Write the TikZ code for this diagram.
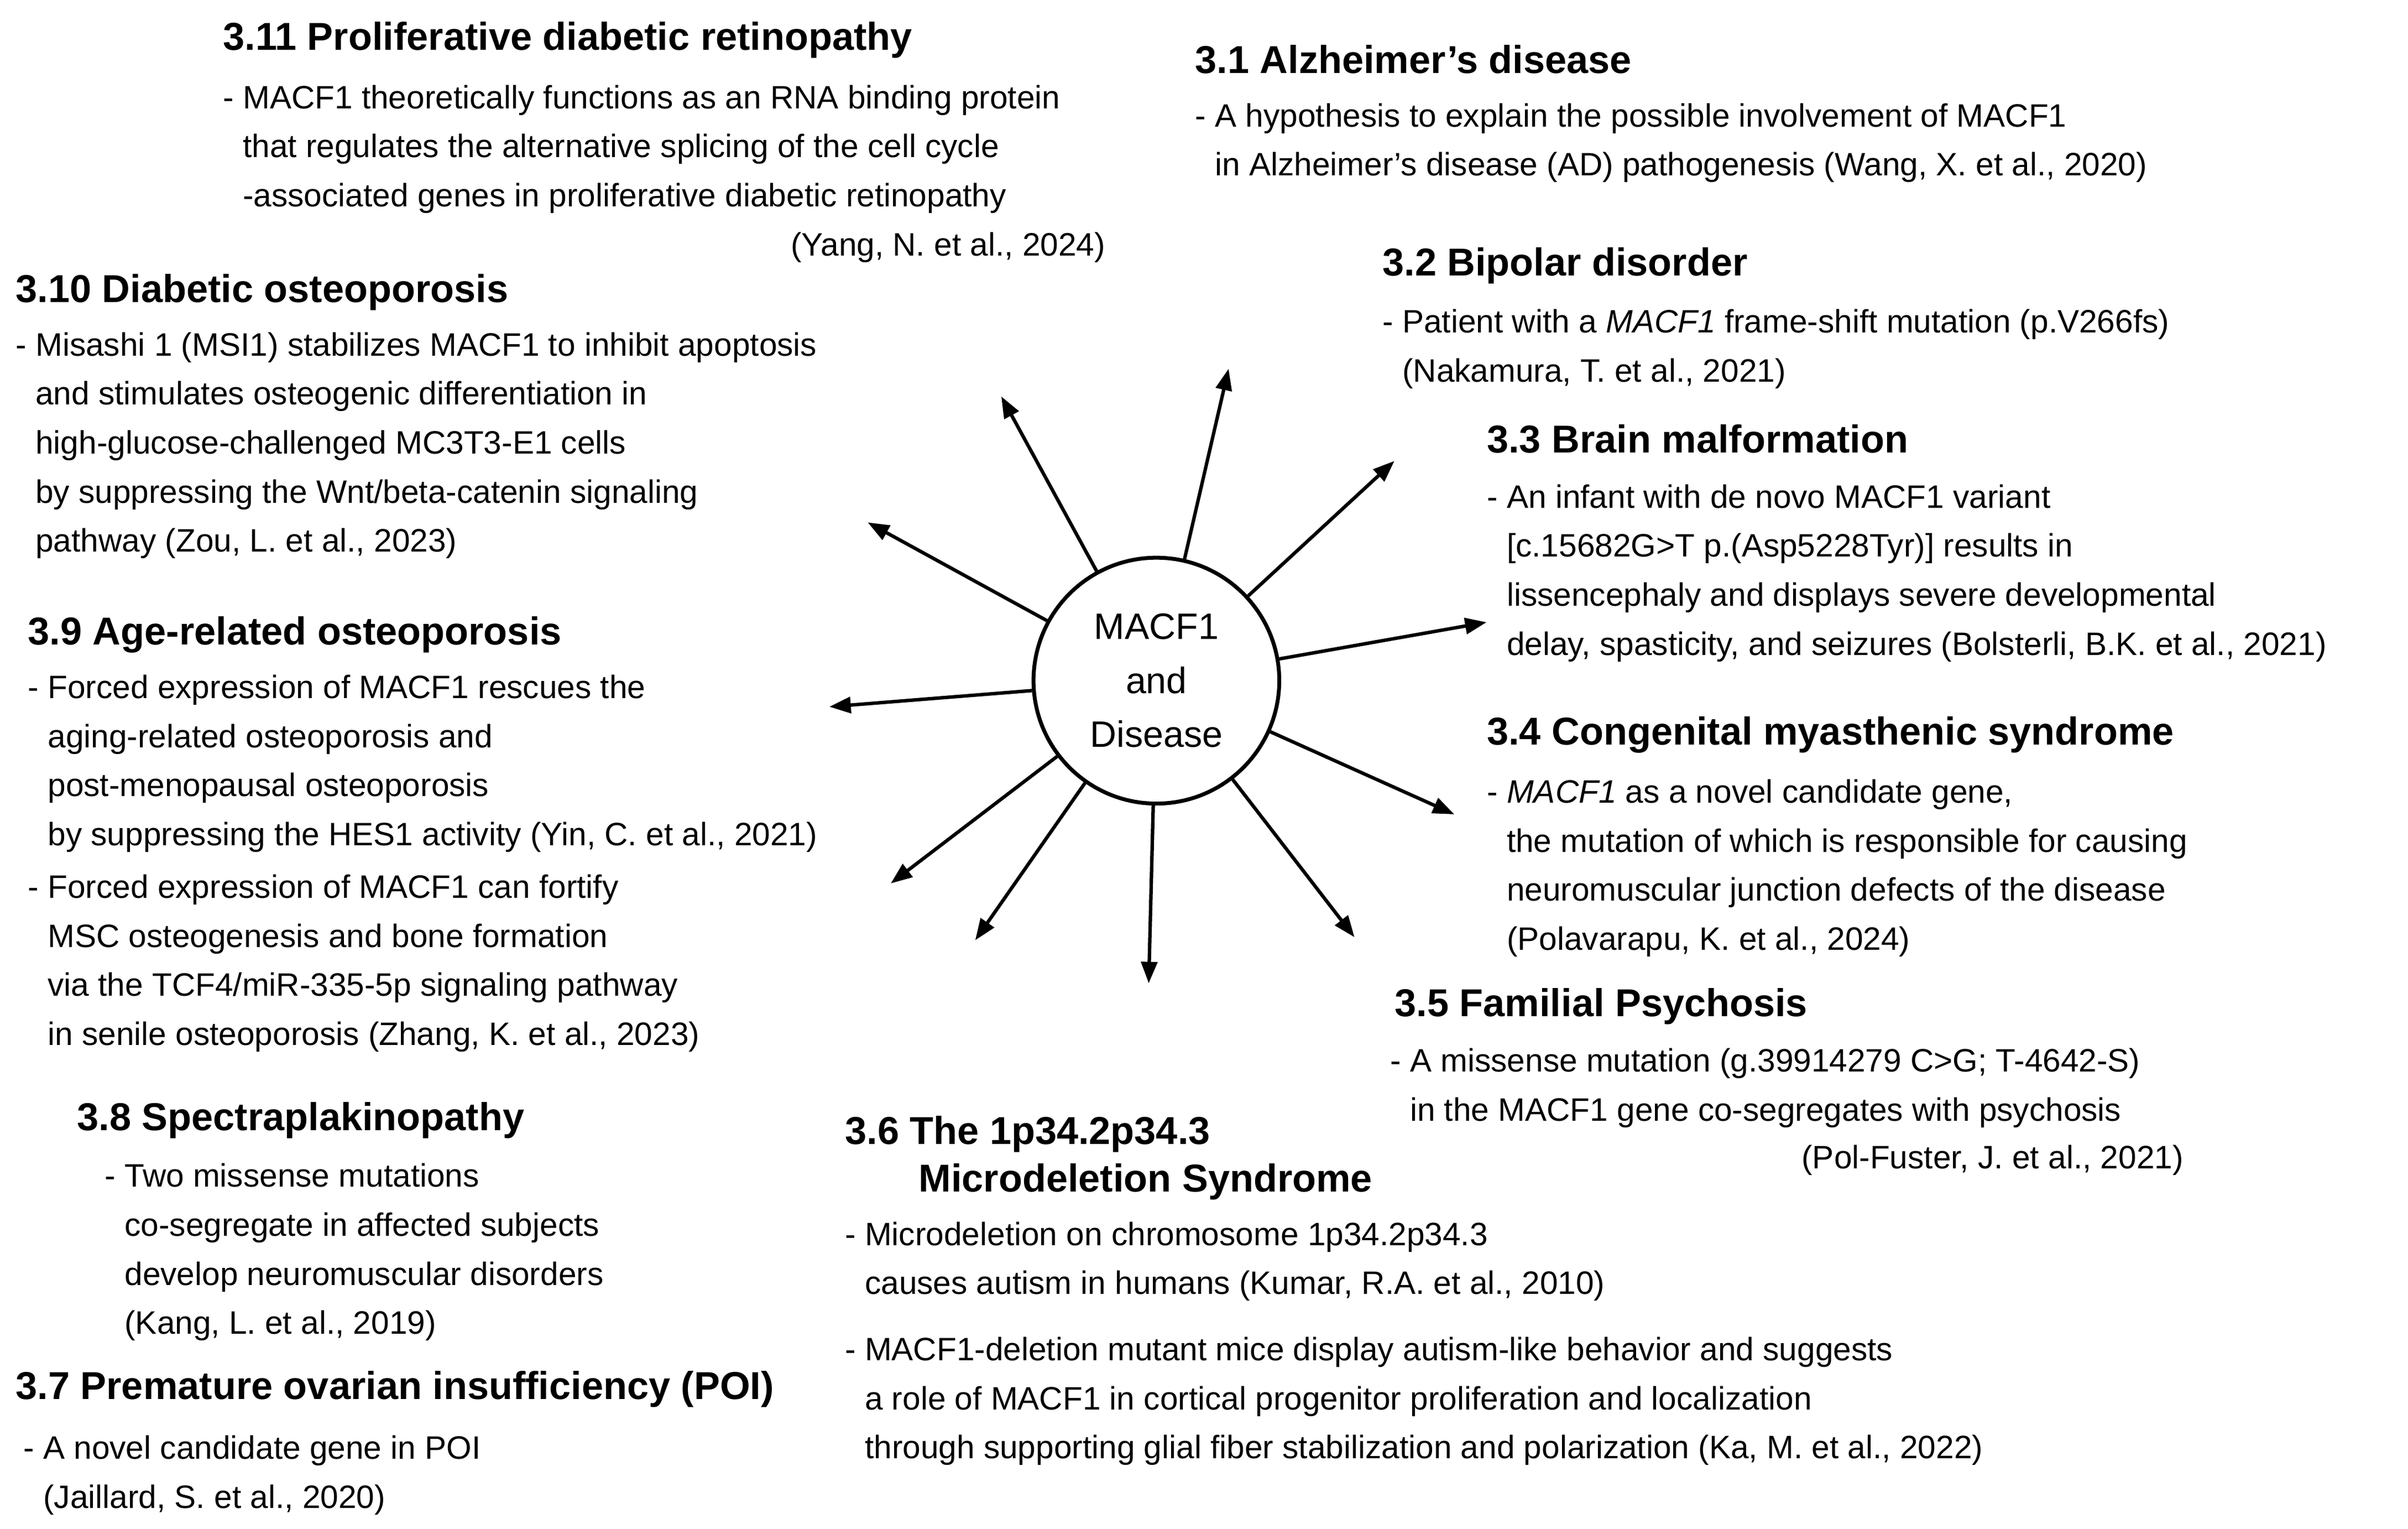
\documentclass[tikz,border=0pt]{standalone}
\usepackage{fontspec}
\setmainfont{Liberation Sans}
\usetikzlibrary{arrows.meta}
\newcommand{\ind}{\hphantom{- }}

\begin{document}
\begin{tikzpicture}[x=0.025cm, y=-0.025cm,
    headnode/.style={anchor=north west, inner sep=0pt, font=\fontsize{18}{22}\selectfont\bfseries},
    textnode/.style={anchor=north west, inner sep=0pt, align=left, font=\fontsize{15}{22.7}\selectfont},
    refnode/.style={anchor=north east, inner sep=0pt, font=\fontsize{15}{22.7}\selectfont},
    arr/.style={-{Triangle[length=3.5mm, width=2.6mm]}, line width=1.6pt}]
    \useasboundingbox (0,0) rectangle (1568,995);

    % Center
    \node[circle, draw, line width=1.8pt, minimum size=4cm, align=center,
          font=\fontsize{17}{25}\selectfont] (c) at (753,443) {MACF1\\and\\Disease};

    % Arrow ends
    \coordinate (e1) at (800,240);
    \coordinate (e2) at (908,300);
    \coordinate (e3) at (968,405);
    \coordinate (e4) at (947,530);
    \coordinate (e5) at (882,610);
    \coordinate (e6) at (748,640);
    \coordinate (e7) at (635,612);
    \coordinate (e8) at (580,575);
    \coordinate (e9) at (540,460);
    \coordinate (e10) at (565,340);
    \coordinate (e11) at (652,258);
    \foreach \i in {1,...,11}
        \draw[arr] (c) -- (e\i);

    % 3.11
    \node[headnode] (h11) at (145,14) {3.11 Proliferative diabetic retinopathy};
    \node[textnode] (t11) at (145,55) {- MACF1 theoretically functions as an RNA binding protein\\
        \ind that regulates the alternative splicing of the cell cycle\\
        \ind -associated genes in proliferative diabetic retinopathy};
    \node[refnode] (r11) at (720,151) {(Yang, N. et al., 2024)};

    % 3.1
    \node[headnode] (h1) at (778,29) {3.1 Alzheimer's disease};
    \node[textnode] (t1) at (778,67) {- A hypothesis to explain the possible involvement of MACF1\\
        \ind in Alzheimer's disease (AD) pathogenesis (Wang, X. et al., 2020)};

    % 3.2
    \node[headnode] (h2) at (900,161) {3.2 Bipolar disorder};
    \node[textnode] (t2) at (900,201) {- Patient with a \textit{MACF1} frame-shift mutation (p.V266fs)\\
        \ind(Nakamura, T. et al., 2021)};

    % 3.3
    \node[headnode] (h3) at (968,276) {3.3 Brain malformation};
    \node[textnode] (t3) at (968,315) {- An infant with de novo MACF1 variant\\
        \ind [c.15682G>T p.(Asp5228Tyr)] results in\\
        \ind lissencephaly and displays severe developmental\\
        \ind delay, spasticity, and seizures (Bolsterli, B.K. et al., 2021)};

    % 3.4
    \node[headnode] (h4) at (968,466) {3.4 Congenital myasthenic syndrome};
    \node[textnode] (t4) at (968,507) {- \textit{MACF1} as a novel candidate gene,\\
        \ind the mutation of which is responsible for causing\\
        \ind neuromuscular junction defects of the disease\\
        \ind (Polavarapu, K. et al., 2024)};

    % 3.5
    \node[headnode] (h5) at (908,643) {3.5 Familial Psychosis};
    \node[textnode] (t5) at (905,682) {- A missense mutation (g.39914279 C>G; T-4642-S)\\
        \ind in the MACF1 gene co-segregates with psychosis};
    \node[refnode] (r5) at (1422,745) {(Pol-Fuster, J. et al., 2021)};

    % 3.6
    \node[headnode, align=left] (h6) at (550,726) {3.6 The 1p34.2p34.3\\\hspace{1.2cm}Microdeletion Syndrome};
    \node[textnode] (t6a) at (550,795) {- Microdeletion on chromosome 1p34.2p34.3\\
        \ind causes autism in humans (Kumar, R.A. et al., 2010)};
    \node[textnode] (t6b) at (550,870) {- MACF1-deletion mutant mice display autism-like behavior and suggests\\
        \ind a role of MACF1 in cortical progenitor proliferation and localization\\
        \ind through supporting glial fiber stabilization and polarization (Ka, M. et al., 2022)};

    % 3.7
    \node[headnode] (h7) at (10,892) {3.7 Premature ovarian insufficiency (POI)};
    \node[textnode] (t7) at (15,934) {- A novel candidate gene in POI\\
        \ind(Jaillard, S. et al., 2020)};

    % 3.8
    \node[headnode] (h8) at (50,717) {3.8 Spectraplakinopathy};
    \node[textnode] (t8) at (68,757) {- Two missense mutations\\
        \ind co-segregate in affected subjects\\
        \ind develop neuromuscular disorders\\
        \ind(Kang, L. et al., 2019)};

    % 3.9
    \node[headnode] (h9) at (18,401) {3.9 Age-related osteoporosis};
    \node[textnode] (t9a) at (18,439) {- Forced expression of MACF1 rescues the\\
        \ind aging-related osteoporosis and\\
        \ind post-menopausal osteoporosis\\
        \ind by suppressing the HES1 activity (Yin, C. et al., 2021)};
    \node[textnode] (t9b) at (18,569) {- Forced expression of MACF1 can fortify\\
        \ind MSC osteogenesis and bone formation\\
        \ind via the TCF4/miR-335-5p signaling pathway\\
        \ind in senile osteoporosis (Zhang, K. et al., 2023)};

    % 3.10
    \node[headnode] (h10) at (10,178) {3.10 Diabetic osteoporosis};
    \node[textnode] (t10) at (10,216) {- Misashi 1 (MSI1) stabilizes MACF1 to inhibit apoptosis\\
        \ind and stimulates osteogenic differentiation in\\
        \ind high-glucose-challenged MC3T3-E1 cells\\
        \ind by suppressing the Wnt/beta-catenin signaling\\
        \ind pathway (Zou, L. et al., 2023)};
\end{tikzpicture}
\end{document}
